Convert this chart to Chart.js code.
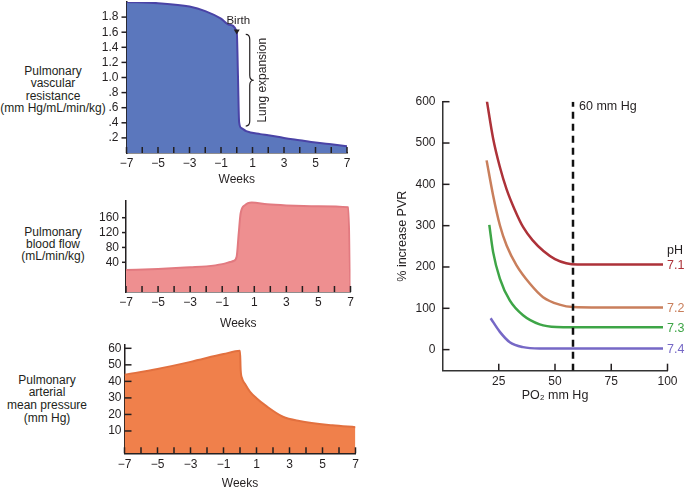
<!DOCTYPE html>
<html>
<head>
<meta charset="utf-8">
<script src="https://cdn.jsdelivr.net/npm/chart.js@4.4.0/dist/chart.umd.min.js"></script>
<style>
  body { margin: 0; background: #fff; width: 685px; height: 491px; position: relative; overflow: hidden;
         font-family: "Liberation Sans", Arial, sans-serif; color: #231f20; }
  canvas { position: absolute; }
  .ytitle { position: absolute; text-align: center; font-size: 12px; white-space: nowrap; }
</style>
</head>
<body>
<div class="ytitle" style="left:-2px;top:64.5px;width:110px;line-height:12.5px">Pulmonary<br>vascular<br>resistance<br>(mm Hg/mL/min/kg)</div>
<div class="ytitle" style="left:0;top:225.7px;width:106px;line-height:12px">Pulmonary<br>blood flow<br>(mL/min/kg)</div>
<div class="ytitle" style="left:0;top:373.6px;width:94px;line-height:12.7px">Pulmonary<br>arterial<br>mean pressure<br>(mm Hg)</div>

<canvas id="pvrChart" width="360" height="195" style="left:0;top:0"></canvas>
<canvas id="flowChart" width="360" height="145" style="left:0;top:190px"></canvas>
<canvas id="pressChart" width="360" height="156" style="left:0;top:335px"></canvas>
<canvas id="phChart" width="305" height="320" style="left:380px;top:90px"></canvas>

<script>
// weeks axis (shared by the three left panels)
const weekTicks = [-7, -6, -5, -4, -3, -2, -1, 0, 1, 2, 3, 4, 5, 6, 7];
const weekLabels = ["\u22127", "", "\u22125", "", "\u22123", "", "\u22121", "", "1", "", "3", "", "5", "", "7"];

// pulmonary vascular resistance
const pvrWeeks = [-7, -5, -3, -2, -1, -0.5, 0, 0.08, 0.15, 0.3, 0.6, 1.5, 2, 3, 4, 5, 6, 7];
const pvrValues = [2.0, 1.985, 1.94, 1.88, 1.78, 1.70, 1.61, 1.0, 0.41, 0.33, 0.29, 0.25, 0.235, 0.2, 0.17, 0.14, 0.115, 0.09];
const pvrTicks = [0.2, 0.4, 0.6, 0.8, 1.0, 1.2, 1.4, 1.6, 1.8];
const pvrTickLabels = [".2", ".4", ".6", ".8", "1.0", "1.2", "1.4", "1.6", "1.8"];

// pulmonary blood flow
const flowWeeks = [-7, -5, -3, -2, -1, -0.5, -0.3, -0.1, 0.03, 0.15, 0.42, 0.84, 1.8, 3, 5, 6.86, 7];
const flowValues = [19, 22, 26.5, 29, 35, 41, 43.5, 55, 118, 172, 194, 201, 196, 193, 191, 188, -40];
const flowTicks = [40, 80, 120, 160];

// pulmonary arterial mean pressure
const pressWeeks = [-7, -5, -3, -1, 0, 0.04, 0.12, 0.3, 0.6, 1, 1.6, 2.6, 3.6, 5.6, 7];
const pressValues = [44, 47.5, 51.8, 56.5, 58.5, 47, 42, 38.5, 33.8, 29.8, 25, 18.6, 16, 13.4, 12.3];
const pressTicks = [10, 20, 30, 40, 50, 60];

// % increase PVR vs PO2 at different pH
const ph71Po2 = [19.6, 22.5, 25.5, 28.5, 32, 36, 40, 45, 50, 55, 60, 70, 98];
const ph71Pvr = [606, 511, 442, 388, 340, 295, 265, 238, 219, 209, 206, 206, 206];
const ph72Po2 = [19.6, 22.5, 25.5, 28.5, 32.9, 38.8, 44.7, 52, 58, 70, 98];
const ph72Pvr = [458, 373, 301, 252, 204, 160, 127, 109, 103, 102, 102];
const ph73Po2 = [20.8, 22.5, 25.5, 29.9, 35.8, 43.2, 50.6, 58, 98];
const ph73Pvr = [302, 236, 172, 119, 83, 61, 54.5, 54, 54];
const ph74Po2 = [21.4, 25.5, 29.9, 35.8, 43.2, 60, 98];
const ph74Pvr = [76, 43, 18, 6, 3, 3, 3];
const phNames = ["7.1", "7.2", "7.3", "7.4"];
const phColors = ["#ad3239", "#c97f5c", "#3ea547", "#7668c6"];
const refPo2 = 58;
const pvrPctTicks = [0, 100, 200, 300, 400, 500, 600];
const po2Ticks = [25, 50, 75, 100];

const FONT = "'Liberation Sans', Arial, sans-serif";
const INK = "#231f20";
Chart.defaults.font.family = FONT;
Chart.defaults.font.size = 12;
Chart.defaults.color = INK;

const pts = (xs, ys) => xs.map((x, i) => ({ x: x, y: ys[i] }));

// small tick marks drawn from the scale ticks; positive = into the plot
const tickMarks = {
    id: "tickMarks",
    afterDraw(chart, args, opts) {
        const ctx = chart.ctx;
        ctx.save();
        ctx.strokeStyle = INK;
        ctx.lineWidth = 1.5;
        ["x", "y"].forEach((id) => {
            const len = opts[id];
            if (!len) return;
            const s = chart.scales[id];
            s.ticks.forEach((t) => {
                const p = s.getPixelForValue(t.value);
                ctx.beginPath();
                if (id === "x") { ctx.moveTo(p, s.top); ctx.lineTo(p, s.top - len); }
                else { ctx.moveTo(s.right, p); ctx.lineTo(s.right + len, p); }
                ctx.stroke();
            });
        });
        ctx.restore();
    }
};
Chart.register(tickMarks);

// fixed box sizes so the plot areas land where the figure has them
const fixHeight = (h) => (s) => { s.height = h; s.paddingLeft = 0; s.paddingRight = 0; };
const fixWidth = (w) => (s) => { s.width = w; s.paddingTop = 0; s.paddingBottom = 0; };

function weekScale(height, tickPad, titlePad) {
    return {
        type: "linear", min: -7, max: 7,
        afterBuildTicks: (s) => { s.ticks = weekTicks.map((v) => ({ value: v })); },
        afterFit: fixHeight(height),
        grid: { display: false, drawTicks: false },
        border: { display: true, color: INK, width: 1.5 },
        ticks: { autoSkip: false, maxRotation: 0, padding: tickPad, callback: (v, i) => weekLabels[i] },
        title: { display: true, text: "Weeks", padding: { top: 0, bottom: titlePad } }
    };
}

function valueScale(min, max, ticks, labels, width, pad) {
    return {
        type: "linear", min: min, max: max,
        afterBuildTicks: (s) => { s.ticks = ticks.map((v) => ({ value: v })); },
        afterFit: fixWidth(width),
        grid: { display: false, drawTicks: false },
        border: { display: true, color: INK, width: 1.5 },
        ticks: { autoSkip: false, padding: pad, callback: (v, i) => labels[i] }
    };
}

function areaSet(xs, ys, fillColor, lineColor) {
    return {
        data: pts(xs, ys),
        fill: "start",
        backgroundColor: fillColor,
        borderColor: lineColor,
        borderWidth: 2,
        pointRadius: 0,
        cubicInterpolationMode: "monotone"
    };
}

const baseOpts = {
    responsive: false,
    animation: false,
    events: [],
    plugins: { legend: { display: false }, tooltip: { enabled: false } }
};

// birth arrow, brace and "Lung expansion" on the resistance panel
const birthNotes = {
    id: "birthNotes",
    afterDraw(chart) {
        const { ctx, scales: { x, y } } = chart;
        const bx = x.getPixelForValue(0);
        const top = y.getPixelForValue(pvrValues[6]) + 3;
        const bot = y.getPixelForValue(pvrValues[8]) + 4;
        const mid = (top + bot) / 2;
        ctx.save();
        ctx.fillStyle = INK;
        ctx.strokeStyle = INK;
        ctx.font = "11.5px " + FONT;
        ctx.textAlign = "center";
        ctx.textBaseline = "alphabetic";
        ctx.fillText("Birth", bx + 1.5, top - 10);
        ctx.beginPath();
        ctx.moveTo(bx - 3, top - 5);
        ctx.lineTo(bx + 3, top - 5);
        ctx.lineTo(bx, top);
        ctx.closePath();
        ctx.fill();
        // brace
        const x0 = bx + 9, xm = bx + 13, xt = bx + 17;
        ctx.lineWidth = 1.2;
        ctx.beginPath();
        ctx.moveTo(x0, top);
        ctx.quadraticCurveTo(xm, top, xm, top + 5);
        ctx.lineTo(xm, mid - 5);
        ctx.quadraticCurveTo(xm, mid, xt, mid);
        ctx.quadraticCurveTo(xm, mid, xm, mid + 5);
        ctx.lineTo(xm, bot - 5);
        ctx.quadraticCurveTo(xm, bot, x0, bot);
        ctx.stroke();
        ctx.translate(bx + 26, mid);
        ctx.rotate(-Math.PI / 2);
        ctx.font = "12px " + FONT;
        ctx.textBaseline = "middle";
        ctx.fillText("Lung expansion", 0, 0);
        ctx.restore();
    }
};

new Chart(document.getElementById("pvrChart"), {
    type: "line",
    data: { datasets: [areaSet(pvrWeeks, pvrValues, "#5b77bd", "#4a43a6")] },
    options: {
        ...baseOpts,
        layout: { padding: { left: 0, top: 2, right: 13, bottom: 0 } },
        scales: {
            x: weekScale(42, 3, 7.8),
            y: valueScale(0, 2, pvrTicks, pvrTickLabels, 126.5, 8)
        },
        plugins: { ...baseOpts.plugins, tickMarks: { x: 6, y: -5 } }
    },
    plugins: [birthNotes]
});

new Chart(document.getElementById("flowChart"), {
    type: "line",
    data: { datasets: [areaSet(flowWeeks, flowValues, "#ee8f90", "#e27a80")] },
    options: {
        ...baseOpts,
        layout: { padding: { left: 0, top: 11, right: 9.5, bottom: 0 } },
        scales: {
            x: weekScale(43, 3.8, 4.5),
            y: valueScale(-40, 205, flowTicks, flowTicks.map(String), 126, 7)
        },
        plugins: { ...baseOpts.plugins, tickMarks: { x: 6, y: -4 } }
    }
});

new Chart(document.getElementById("pressChart"), {
    type: "line",
    data: { datasets: [areaSet(pressWeeks, pressValues, "#f0804b", "#e2703f")] },
    options: {
        ...baseOpts,
        layout: { padding: { left: 0, top: 10, right: 4.5, bottom: 0 } },
        scales: {
            x: weekScale(37.7, 4.5, 0.5),
            y: valueScale(-3.5, 62, pressTicks, pressTicks.map(String), 124.5, 3)
        },
        plugins: { ...baseOpts.plugins, tickMarks: { x: 6, y: 7 } }
    }
});

// pH names at line ends plus the 60 mm Hg marker text
const phNotes = {
    id: "phNotes",
    afterDatasetsDraw(chart) {
        const { ctx, scales: { x, y } } = chart;
        const ends = [ph71Pvr, ph72Pvr, ph73Pvr, ph74Pvr].map((a) => a[a.length - 1]);
        const lx = x.getPixelForValue(100) - 0.5;
        ctx.save();
        ctx.font = "12.5px " + FONT;
        ctx.textAlign = "left";
        ctx.textBaseline = "middle";
        ends.forEach((v, i) => {
            ctx.fillStyle = phColors[i];
            ctx.fillText(phNames[i], lx, y.getPixelForValue(v) + 1);
        });
        ctx.fillStyle = INK;
        ctx.fillText("pH", lx, y.getPixelForValue(ends[0]) - 14);
        ctx.fillText("60 mm Hg", x.getPixelForValue(refPo2) + 6, y.getPixelForValue(600) + 5);
        ctx.restore();
    }
};

const phSeries = [[ph71Po2, ph71Pvr], [ph72Po2, ph72Pvr], [ph73Po2, ph73Pvr], [ph74Po2, ph74Pvr]];
const yMinPct = -51, yMaxPct = 600;

new Chart(document.getElementById("phChart"), {
    type: "line",
    data: {
        datasets: [
            {
                data: [{ x: refPo2, y: yMinPct }, { x: refPo2, y: yMaxPct }],
                borderColor: "#111",
                borderWidth: 2.5,
                borderDash: [7, 5],
                pointRadius: 0
            },
            ...phSeries.map((s, i) => ({
                data: pts(s[0], s[1]),
                borderColor: phColors[i],
                borderWidth: 2.5,
                pointRadius: 0,
                fill: false,
                cubicInterpolationMode: "monotone"
            }))
        ]
    },
    options: {
        ...baseOpts,
        layout: { padding: { left: 0, top: 11.7, right: 17.5, bottom: 0 } },
        scales: {
            x: {
                type: "linear", min: 0, max: 100,
                afterBuildTicks: (s) => { s.ticks = po2Ticks.map((v) => ({ value: v })); },
                afterFit: fixHeight(39.3),
                grid: { display: false, drawTicks: false },
                border: { display: true, color: "#333", width: 1.5 },
                ticks: { padding: 3.5, maxRotation: 0, autoSkip: false },
                title: { display: true, text: "PO\u2082 mm Hg", font: { size: 12.5 }, padding: { top: 0, bottom: 6.5 } }
            },
            y: {
                type: "linear", min: yMinPct, max: yMaxPct,
                afterBuildTicks: (s) => { s.ticks = pvrPctTicks.map((v) => ({ value: v })); },
                afterFit: fixWidth(62.5),
                grid: { display: false, drawTicks: false },
                border: { display: true, color: "#333", width: 1.5 },
                ticks: { padding: 7, autoSkip: false },
                title: { display: true, text: "% increase PVR", font: { size: 12.5 }, padding: { top: 15.5, bottom: 0 } }
            }
        },
        plugins: { ...baseOpts.plugins, tickMarks: { x: 7, y: 7 } }
    },
    plugins: [phNotes]
});
</script>
</body>
</html>
